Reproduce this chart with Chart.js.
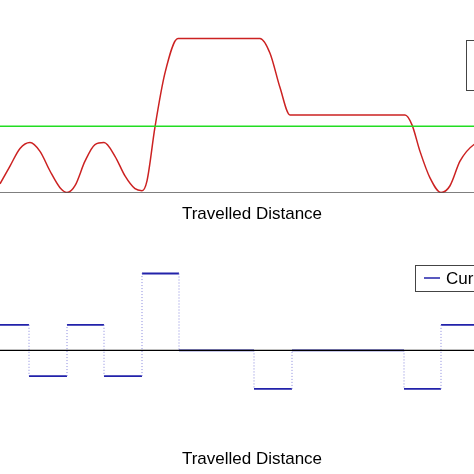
<!DOCTYPE html>
<html><head><script src="https://cdn.jsdelivr.net/npm/chart.js"></script>
<style>body{margin:0;background:#fff}#w{position:relative;width:474px;height:474px;overflow:hidden}
.c{position:absolute;left:0;width:504px}</style></head><body>
<div id="w"><div class="c" style="top:0;height:229px"><canvas id="a"></canvas></div>
<div class="c" style="top:253px;height:221px"><canvas id="b"></canvas></div></div>
<script>
const speedX=[0,10,20,30,40,50,60,67,75,85,95,104,115,125,135,142,147,155,165,178,260,270,280,290,405,412,420,430,441,450,460,474,504];
const speedPx=[188,170,152,146,155,175,192,197,190,165,148,146,160,180,193,195,185,130,75,40,40,55,90,118,118,128,155,182,197,190,165,148,140];
const speed=speedPx.map(p=>(197-p)/157);
const limit=0.43;
const stepEdges=[0,29,67,104,142,179,254,292,404,441,504];
const current=[1,-1,1,-1,3,0,-1.5,0,-1.5,1];
const xLabel='Travelled Distance';
const font={family:'Liberation Sans',size:17};
function hline(v){return [{x:0,y:v},{x:504,y:v}];}
function legendPlugin(items,box){return {id:'lg',afterDraw(c){const g=c.ctx;g.save();g.fillStyle='#fff';g.fillRect(box[0],box[1],box[2],box[3]);g.strokeStyle='#444';g.lineWidth=1;g.strokeRect(box[0]+.5,box[1]+.5,box[2],box[3]);
items.forEach((it,i)=>{const y=box[1]+box[3]/(items.length*2)*(2*i+1);g.strokeStyle=it.c;g.lineWidth=1.5;g.beginPath();g.moveTo(box[0]+9,y);g.lineTo(box[0]+25,y);g.stroke();g.fillStyle='#000';g.font='17px Liberation Sans';g.textBaseline='middle';g.fillText(it.t,box[0]+31,y+1);});g.restore();}};}
const xs={type:'linear',min:0,max:504,grid:{display:false},border:{display:false},ticks:{display:false},title:{display:true,text:xLabel,color:'#000',font,padding:{top:4,bottom:4}}};
new Chart(document.getElementById('a'),{type:'line',data:{datasets:[
{data:hline(0),borderColor:'#000',borderWidth:1.2,pointRadius:0},
{label:'Limit',data:hline(limit),borderColor:'#22dd22',borderWidth:1.5,pointRadius:0},
{label:'Speed',data:speedX.map((x,i)=>({x,y:speed[i]})),borderColor:'#cc2222',borderWidth:1.5,pointRadius:0,tension:0.3,cubicInterpolationMode:'monotone'}]},
options:{responsive:true,maintainAspectRatio:false,animation:false,layout:{padding:0},plugins:{legend:{display:false},tooltip:{enabled:false}},
scales:{x:xs,y:{min:0,max:1.25,display:false}}},plugins:[legendPlugin([{c:'#cc2222',t:'Speed'},{c:'#22dd22',t:'Limit'}],[466,40,90,50])]});
const hs=[],vs=[];
for(let i=0;i<current.length;i++){hs.push({x:stepEdges[i],y:current[i]},{x:stepEdges[i+1],y:current[i]},{x:stepEdges[i+1],y:null});
if(i>0){vs.push({x:stepEdges[i],y:current[i-1]},{x:stepEdges[i],y:current[i]},{x:stepEdges[i],y:null});}}
new Chart(document.getElementById('b'),{type:'line',data:{datasets:[
{data:hline(0),borderColor:'#000',borderWidth:1.2,pointRadius:0},
{data:vs,borderColor:'#8888dd',borderWidth:1,borderDash:[1,2],pointRadius:0,spanGaps:false},
{label:'Current',data:hs,borderColor:'#2222aa',borderWidth:1.8,pointRadius:0,spanGaps:false}]},
options:{responsive:true,maintainAspectRatio:false,animation:false,layout:{padding:0},plugins:{legend:{display:false},tooltip:{enabled:false}},
scales:{x:xs,y:{min:-3.4,max:3.8,display:false}}},plugins:[legendPlugin([{c:'#2222aa',t:'Current'}],[415,12,120,26])]});
</script></body></html>
